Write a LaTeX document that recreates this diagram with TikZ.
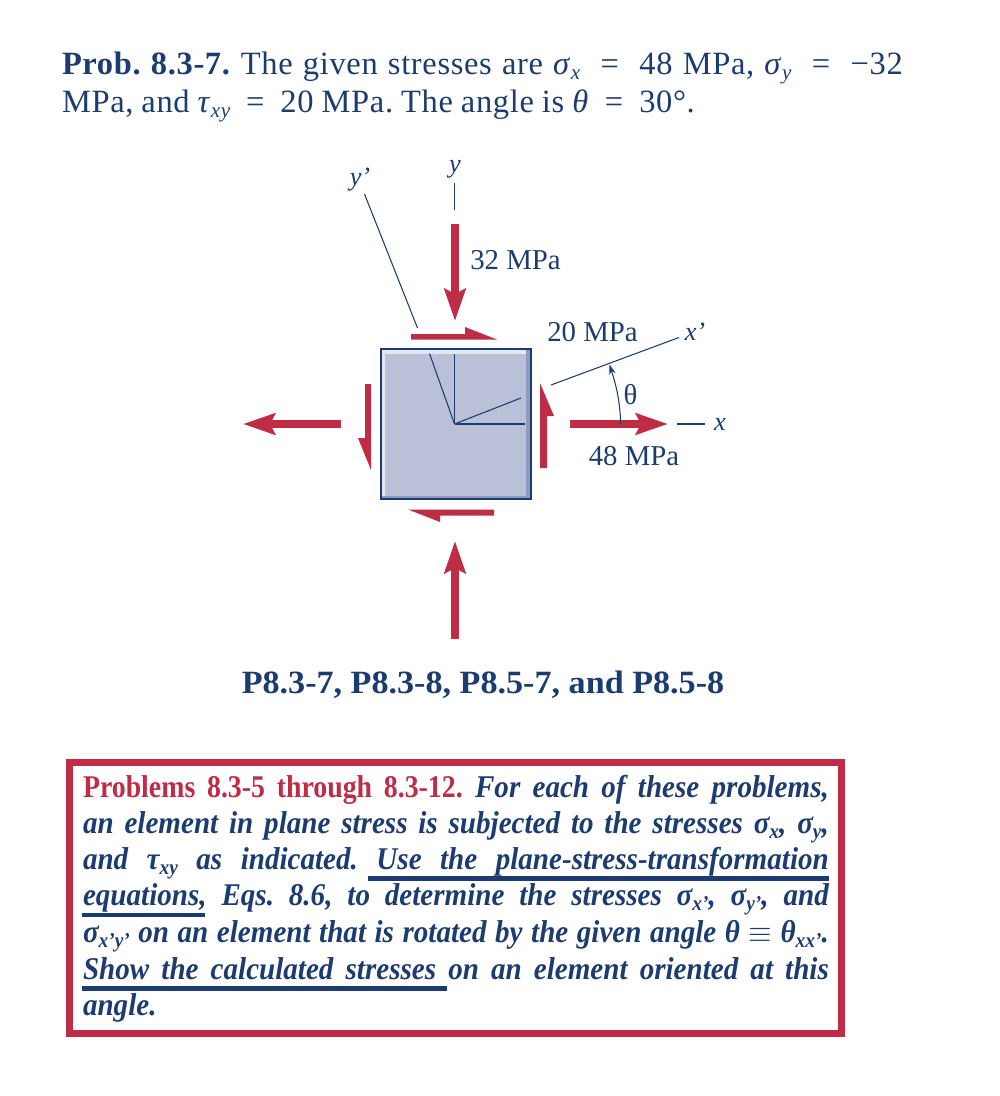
\documentclass[tikz,border=0pt]{standalone}
\usepackage{fontspec}
\setmainfont{Liberation Serif}
\newfontfamily\boxfont[FakeStretch=0.92]{Liberation Serif}
\newfontfamily\redfont[FakeStretch=0.88]{Liberation Serif}
\newfontfamily\topfont[LetterSpace=2.0]{Liberation Serif}
\newfontfamily\capfont[FakeStretch=1.05]{Liberation Serif}
\usepackage{tikz}
\usetikzlibrary{arrows.meta}
\definecolor{stressred}{HTML}{BE2C46}
\definecolor{inkblue}{HTML}{1C3C70}
\definecolor{elemblue}{HTML}{B9C0D8}
\definecolor{elemdark}{HTML}{8F9ABF}
\definecolor{elemlight}{HTML}{E4E7F0}
\newcommand{\lowtext}[1]{\smash{\raisebox{-.35ex}{\fontsize{12}{12}\selectfont\itshape #1}}}
\newcommand{\fitline}[2]{\hbox to #1{#2}}
\hbadness=10000
\hfuzz=20pt
\frenchspacing

\begin{document}
\begin{tikzpicture}[
            x=0.02cm,y=-0.02cm,
            every node/.style={text=inkblue,inner sep=0pt,outer sep=0pt},
            top line/.style={anchor=base west,font=\topfont\fontsize{18.5}{20}\selectfont},
            box line/.style={anchor=base west,font=\boxfont\bfseries\itshape\fontsize{18}{20}\selectfont},
            fig label/.style={font=\fontsize{16.4}{18}\selectfont},
            axis label/.style={font=\itshape\fontsize{15}{18}\selectfont},
            axis line/.style={draw=inkblue,line width=0.6pt},
            stress arrow/.style={draw=stressred,line width=0.16cm,-{Stealth[length=0.64cm,width=0.42cm,inset=0.1cm]}},
            shear arrow/.style={fill=stressred},
            under line/.style={draw=inkblue,line width=0.09cm},
            ]
            
            \useasboundingbox (0,0) rectangle (1000,1096);
            
            % heading
            \node[top line] (head1) at (62,74) {\fitline{16.82cm}{\textbf{Prob. 8.3-7.} The given stresses are \textit{σ}\lowtext{x}\ \ =\ \ 48 MPa, \textit{σ}\lowtext{y}\ \ =\ \ −32}};
            \node[top line] (head2) at (62,112) {\fitline{12.66cm}{MPa, and \textit{τ}\lowtext{xy}\ \ =\ \ 20 MPa. The angle is \textit{θ}\ \ =\ \ 30°.}};
            
            % element
            \fill[elemdark] (381,349) rectangle (531,499);
            \fill[elemlight] (381,349) rectangle (526,496);
            \fill[elemblue] (385,354) rectangle (526,496);
            \draw[inkblue,line width=0.04cm] (381,349) rectangle (531,499);
            
            \coordinate (o) at (454.5,424);
            \coordinate (xin) at (525,424);
            \coordinate (yin) at (454.5,354);
            \coordinate (xpin) at (521,398);
            \coordinate (ypin) at (429.5,353.5);
            \coordinate (xa) at (677,424);
            \coordinate (xb) at (705,424);
            \coordinate (ya) at (454.5,210);
            \coordinate (yb) at (454.5,183);
            \coordinate (xpa) at (551,385);
            \coordinate (xpb) at (679,337.5);
            \coordinate (ypa) at (417.5,328);
            \coordinate (ypb) at (364.5,194);
            \coordinate (arca) at (620.7,424);
            \coordinate (arcb) at (609.5,364.5);
            
            \draw[axis line] (o) -- (xin);
            \draw[axis line] (o) -- (yin);
            \draw[axis line] (o) -- (xpin);
            \draw[axis line] (o) -- (ypin);
            \draw[axis line] (xa) -- (xb);
            \draw[axis line] (ya) -- (yb);
            \draw[axis line] (xpa) -- (xpb);
            \draw[axis line] (ypa) -- (ypb);
            
            % normal stresses
            \coordinate (ntop) at (455,224);
            \coordinate (ntoptip) at (455,321);
            \coordinate (nbot) at (455,639);
            \coordinate (nbottip) at (455,541);
            \coordinate (nright) at (570,424);
            \coordinate (nrighttip) at (668,424);
            \coordinate (nleft) at (341,424);
            \coordinate (nlefttip) at (243,424);
            
            \draw[stress arrow] (ntop) -- (ntoptip);
            \draw[stress arrow] (nbot) -- (nbottip);
            \draw[stress arrow] (nright) -- (nrighttip);
            \draw[stress arrow] (nleft) -- (nlefttip);
            
            % shear stresses
            \fill[shear arrow] (411,334) -- (465,334) -- (465,327) -- (497,339.5) -- (411,339.5) -- cycle;
            \fill[shear arrow] (540,383) -- (554,416) -- (547,416) -- (547,468) -- (540,468) -- cycle;
            \fill[shear arrow] (371,384) -- (371,470) -- (358,438) -- (365,438) -- (365,384) -- cycle;
            \fill[shear arrow] (494,509.5) -- (408,509.5) -- (440,522) -- (440,515.5) -- (494,515.5) -- cycle;
            
            % angle
            \draw[axis line,-{Stealth[length=0.2cm,width=0.13cm]}] (arca) .. controls (620,400) and (616,385) .. (arcb);
            
            % labels
            \node[axis label] (ylab) at (455,169) {y};
            \node[axis label] (yplab) at (360,180) {y’};
            \node[axis label] (xplab) at (695,332) {x’};
            \node[axis label] (xlab) at (720,424) {x};
            \node[fig label] (s32) at (515.5,260) {32 MPa};
            \node[fig label] (s20) at (592.5,332) {20 MPa};
            \node[fig label] (s48) at (634,456) {48 MPa};
            \node[fig label] (thlab) at (630.5,395) {θ};
            
            % caption
            \node[font=\capfont\bfseries\fontsize{18.5}{20}\selectfont] (cap) at (483,685) {P8.3-7, P8.3-8, P8.5-7, and P8.5-8};
            
            % boxed note
            \draw[stressred,line width=0.145cm] (69.5,762.5) rectangle (841.5,1033.5);
            
            \node[box line] (l1) at (83,797) {\fitline{14.92cm}{\textcolor{stressred}{\redfont\upshape Problems 8.3-5 through 8.3-12.} For each of these problems,}};
            \node[box line] (l2) at (83,833) {\fitline{14.92cm}{an element in plane stress is subjected to the stresses σ\lowtext{x}, σ\lowtext{y},}};
            \node[box line] (l3) at (83,869) {\fitline{14.92cm}{and τ\lowtext{xy} as indicated. Use the plane-stress-transformation}};
            \node[box line] (l4) at (83,905) {\fitline{14.92cm}{equations, Eqs. 8.6, to determine the stresses σ\lowtext{x’}, σ\lowtext{y’}, and}};
            \node[box line] (l5) at (83,942) {\fitline{14.92cm}{σ\lowtext{x’y’} on an element that is rotated by the given angle θ $\equiv$ θ\lowtext{xx’}.}};
            \node[box line] (l6) at (83,979) {\fitline{14.92cm}{Show the calculated stresses on an element oriented at this}};
            \node[box line] (l7) at (83,1015) {angle.};
            
            \coordinate (u1a) at (368,878.5);
            \coordinate (u1b) at (829,878.5);
            \coordinate (u2a) at (82,915);
            \coordinate (u2b) at (205,915);
            \coordinate (u3a) at (82,988.5);
            \coordinate (u3b) at (447,988.5);
            
            \draw[under line] (u1a) -- (u1b);
            \draw[under line] (u2a) -- (u2b);
            \draw[under line] (u3a) -- (u3b);
        \end{tikzpicture}
\end{document}
